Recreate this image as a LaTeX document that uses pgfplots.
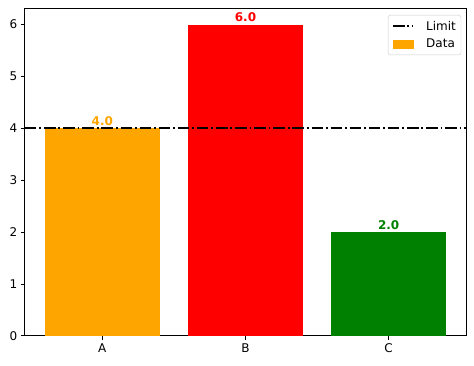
\documentclass[border=0pt]{standalone}
\usepackage{pgfplots}
\pgfplotsset{compat=1.18}
\usepackage{fontspec}
\setmainfont{DejaVu Sans}
\definecolor{mplorange}{HTML}{FFA500}
\definecolor{mplred}{HTML}{FF0000}
\definecolor{mplgreen}{HTML}{008000}
\begin{document}
\begin{tikzpicture}
\begin{axis}[
  scale only axis, width=441pt, height=327pt,
  xmin=-0.54, xmax=2.54, ymin=0, ymax=6.3,
  xtick={0,1,2}, xticklabels={A,B,C},
  ytick={0,1,2,3,4,5,6},
  tick align=outside, major tick length=4.2pt,
  tick style={black, line width=1pt},
  xtick pos=bottom, ytick pos=left,
  axis line style={line width=1pt},
  /pgf/number format/assume math mode=true,
  ticklabel style={font=\fontsize{12}{14}\selectfont},
  legend style={at={(rel axis cs:0.989,0.982)}, anchor=north east, draw=black!20, rounded corners=2.5pt, font=\fontsize{12}{14}\selectfont, row sep=5pt, column sep=0pt, inner xsep=4pt, inner ysep=5pt, nodes={inner sep=1pt}},
  legend cell align=left,
  point meta=y,
  nodes near coords style={anchor=south, inner sep=2.5pt, font=\fontsize{12}{14}\selectfont\bfseries, /pgf/number format/fixed, /pgf/number format/fixed zerofill, /pgf/number format/precision=1, /pgf/number format/assume math mode=true},
]
\addlegendimage{legend image code/.code={\draw[sharp corners, black, line width=1.8pt, dash pattern=on 11.5pt off 2.9pt on 1.8pt off 2.9pt] (0pt,0pt) -- (20pt,0pt); \path (32pt,0pt);}}
\addlegendentry{Limit}
\addlegendimage{legend image code/.code={\fill[sharp corners, mplorange] (0pt,-4pt) rectangle (20pt,4pt); \path (32pt,0pt);}}
\addlegendentry{Data}
\addplot[ybar, bar width=0.8, bar shift=0pt, fill=mplorange, draw=none, nodes near coords, nodes near coords style={text=mplorange}, forget plot] coordinates {(0,4)};
\addplot[ybar, bar width=0.8, bar shift=0pt, fill=mplred, draw=none, nodes near coords, nodes near coords style={text=mplred}, forget plot] coordinates {(1,6)};
\addplot[ybar, bar width=0.8, bar shift=0pt, fill=mplgreen, draw=none, nodes near coords, nodes near coords style={text=mplgreen}, forget plot] coordinates {(2,2)};
\addplot[sharp plot, black, line width=1.8pt, dash pattern=on 11.5pt off 2.9pt on 1.8pt off 2.9pt, no markers, forget plot] coordinates {(-0.54,4) (2.54,4)};
\coordinate (sw) at (rel axis cs:0,0);
\coordinate (ne) at (rel axis cs:1,1);
\end{axis}
\path ([shift={(-25pt,-30pt)}]sw) rectangle ([shift={(8pt,9pt)}]ne);
\end{tikzpicture}
\end{document}
